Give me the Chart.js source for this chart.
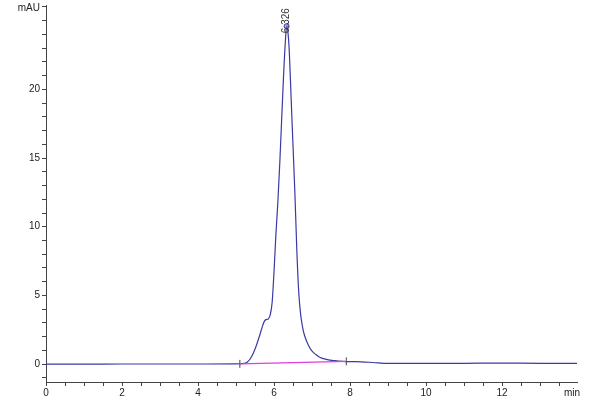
<!DOCTYPE html>
<html>
<head>
<meta charset="utf-8">
<script src="https://cdn.jsdelivr.net/npm/chart.js@4/dist/chart.umd.min.js"></script>
<style>
html,body{margin:0;padding:0;background:#fff;}
#c{display:block;}
</style>
</head>
<body>
<canvas id="c" width="600" height="400"></canvas>
<script>
// Retention time (min) and absorbance (mAU)
const times  = [0, 1, 2, 3, 4, 5.0, 5.1, 5.2, 5.3, 5.4, 5.5, 5.6, 5.7, 5.75, 5.8, 5.85, 5.9, 5.95, 6.0, 6.05, 6.1, 6.15, 6.2, 6.25, 6.3, 6.33, 6.36, 6.4, 6.45, 6.5, 6.55, 6.6, 6.65, 6.7, 6.75, 6.8, 6.9, 7.0, 7.1, 7.2, 7.4, 7.6, 7.8, 8.0, 8.3, 8.6, 9.0, 10, 11, 12, 13, 14];
const values = [0, 0, 0.01, 0.01, 0.01, 0.02, 0.03, 0.05, 0.15, 0.5, 1.1, 1.9, 2.8, 3.15, 3.25, 3.3, 3.6, 4.5, 6.8, 9.5, 11.8, 14.6, 17.8, 21.0, 23.6, 24.6, 24.3, 22.8, 19.3, 15.8, 12.3, 8.2, 5.2, 3.6, 2.7, 2.1, 1.4, 0.95, 0.7, 0.5, 0.33, 0.25, 0.2, 0.18, 0.17, 0.12, 0.05, 0.05, 0.06, 0.08, 0.06, 0.06];
// Integration baseline (start / end)
const baseTimes  = [5.1, 7.9];
const baseValues = [0.02, 0.2];
// Peak annotation
const peakTime = 6.33;
const peakValue = 24.6;
const peakLabel = "6.326";
// Axis ticks
const xTicks = [0,0.5,1,1.5,2,2.5,3,3.5,4,4.5,5,5.5,6,6.5,7,7.5,8,8.5,9,9.5,10,10.5,11,11.5,12,12.5,13,13.5];
const xLabels = [0,2,4,6,8,10,12];
const yTicks = [-1,0,1,2,3,4,5,6,7,8,9,10,11,12,13,14,15,16,17,18,19,20,21,22,23,24,25,26];
const yLabels = [0,5,10,15,20];
const yUnit = "mAU";
const xUnit = "min";

const toXY = (xs, ys) => xs.map((x, i) => ({x: x, y: ys[i]}));

const annot = {
  id: 'annot',
  afterDraw(chart) {
    const ctx = chart.ctx;
    const xs = chart.scales.x, ys = chart.scales.y;
    ctx.save();
    ctx.fillStyle = '#222';
    ctx.font = '10px "Liberation Sans", Arial, sans-serif';
    ctx.textAlign = 'right';
    ctx.textBaseline = 'middle';
    ctx.fillText(yUnit, 40, 8);
    ctx.textAlign = 'right';
    ctx.textBaseline = 'top';
    ctx.fillText(xUnit, 580, 388);
    const px = xs.getPixelForValue(peakTime);
    const py = ys.getPixelForValue(peakValue);
    ctx.translate(px, py + 7);
    ctx.rotate(-Math.PI / 2);
    ctx.textAlign = 'left';
    ctx.textBaseline = 'middle';
    ctx.fillStyle = '#333';
    ctx.fillText(peakLabel, 0, 0);
    ctx.restore();
  }
};

new Chart(document.getElementById('c'), {
  type: 'scatter',
  data: {
    datasets: [
      {
        data: toXY(baseTimes, baseValues),
        showLine: true,
        borderColor: '#e03ce0',
        borderWidth: 1.2,
        pointRadius: 0
      },
      {
        data: toXY(baseTimes, baseValues),
        showLine: false,
        pointStyle: 'line',
        rotation: 90,
        pointRadius: 4,
        borderColor: '#444',
        borderWidth: 1,
        backgroundColor: '#444'
      },
      {
        data: [{x: peakTime, y: peakValue}],
        showLine: false,
        pointStyle: 'circle',
        pointRadius: 2.5,
        borderColor: '#3a3aa6',
        borderWidth: 1,
        backgroundColor: 'rgba(120,120,200,0.6)'
      },
      {
        data: toXY(times, values),
        showLine: true,
        borderColor: '#3a3aa6',
        borderWidth: 1.2,
        pointRadius: 0,
        cubicInterpolationMode: 'monotone'
      }
    ]
  },
  options: {
    responsive: false,
    animation: false,
    layout: { padding: { left: 0, right: 23, top: 2, bottom: 0 } },
    plugins: { legend: { display: false }, tooltip: { enabled: false } },
    scales: {
      x: {
        type: 'linear',
        min: 0,
        max: 13.97,
        afterBuildTicks(s) { s.ticks = xTicks.map(v => ({value: v})); },
        afterFit(s) { s.height = 18; s.paddingLeft = 0; s.paddingRight = 0; },
        grid: { drawOnChartArea: false, drawTicks: true, tickLength: 4, color: '#444', tickWidth: 1 },
        border: { display: true, color: '#444', width: 1 },
        ticks: {
          autoSkip: false,
          maxRotation: 0,
          padding: 1,
          color: '#222',
          font: { family: '"Liberation Sans", Arial, sans-serif', size: 10 },
          callback(v) { return xLabels.includes(v) ? String(v) : ''; }
        }
      },
      y: {
        type: 'linear',
        min: -1.3,
        max: 26.14,
        afterBuildTicks(s) { s.ticks = yTicks.map(v => ({value: v})); },
        afterFit(s) { s.width = 46; s.paddingTop = 0; s.paddingBottom = 0; },
        grid: { drawOnChartArea: false, drawTicks: true, tickLength: 4, color: '#444', tickWidth: 1 },
        border: { display: true, color: '#444', width: 1 },
        ticks: {
          autoSkip: false,
          padding: 2,
          color: '#222',
          font: { family: '"Liberation Sans", Arial, sans-serif', size: 10 },
          callback(v) { return yLabels.includes(v) ? String(v) : ''; }
        }
      }
    }
  },
  plugins: [annot]
});
</script>
</body>
</html>
